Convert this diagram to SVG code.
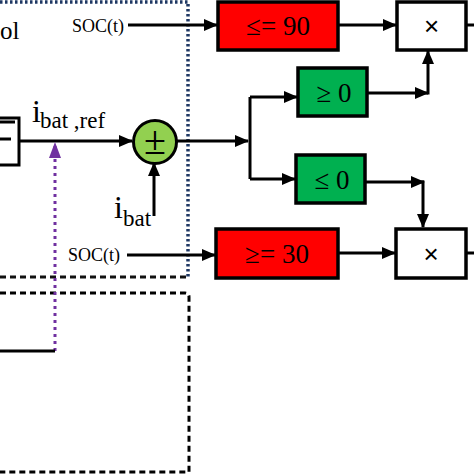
<svg xmlns="http://www.w3.org/2000/svg" width="474" height="474" viewBox="0 0 474 474">
<defs>
<marker id="ah" markerUnits="userSpaceOnUse" markerWidth="14" markerHeight="12" refX="13" refY="6" orient="auto"><path d="M0,0 L14,6 L0,12 Z" fill="#000"/></marker>
<style>
.w{stroke:#000;stroke-width:3;fill:none}
.a{stroke:#000;stroke-width:3;fill:none;marker-end:url(#ah)}
.bx{stroke:#000;stroke-width:3.5}
.t{font-family:"Liberation Serif",serif;fill:#000}
.c{text-anchor:middle}
.x{font-family:"Liberation Sans",sans-serif;font-size:26px}
</style>
</defs>
<rect width="474" height="474" fill="#fff"/>
<g id="regions">
<path d="M0,2 H188 V277" fill="none" stroke="#1f3864" stroke-width="3.5" stroke-dasharray="2.5 2.5"/>
<path d="M0,277 H188" fill="none" stroke="#111" stroke-width="3" stroke-dasharray="6 4"/>
<path d="M0,293 H185 Q189,293 189,297 V472 H0" fill="none" stroke="#000" stroke-width="3" stroke-dasharray="6 4"/>
<text class="t" x="0" y="39" font-size="25">ol</text>
</g>
<g id="left-block">
<path class="w" d="M0,118 H19 V165 H0"/>
<path class="w" d="M0,122 H15"/>
<path class="w" d="M0,139 H11"/>
</g>
<g id="connectors">
<path class="a" d="M19,141 H132"/>
<path d="M55,351 V146" fill="none" stroke="#7030a0" stroke-width="3" stroke-dasharray="3 4"/>
<path d="M49,158 L55,142 L61,158 Z" fill="#7030a0"/>
<path class="w" d="M0,351 H55"/>
<path class="a" d="M154,216 V163"/>
<path class="a" d="M177,141 H248"/>
<path class="w" d="M250,97 V179"/>
<path class="a" d="M250,97 H297"/>
<path class="a" d="M250,179 H295"/>
<path class="a" d="M128,25 H217"/>
<path class="a" d="M127,255 H215"/>
<path class="a" d="M338,25 H396"/>
<path class="a" d="M367,93 H428"/>
<path class="a" d="M428,94.5 V51"/>
<path class="a" d="M365,182 H424"/>
<path class="a" d="M423,180.5 V227"/>
<path class="a" d="M338,253 H395"/>
<path class="w" d="M466,25 H474"/>
<path class="w" d="M466,253 H474"/>
</g>
<g id="ibatref-label">
<text class="t" x="32" y="122" font-size="32">i</text>
<text class="t" x="40" y="128" font-size="23">bat ,ref</text>
</g>
<g id="sum">
<circle cx="155" cy="142" r="21.5" fill="#92d050" stroke="#000" stroke-width="3"/>
<text class="t c" x="155" y="154" font-size="40">±</text>
</g>
<g id="ibat-label">
<text class="t" x="114" y="218" font-size="32">i</text>
<text class="t" x="123" y="226" font-size="23">bat</text>
</g>
<g id="soc-top"><text class="t" x="72" y="32" font-size="18">SOC(t)</text></g>
<g id="soc-bottom"><text class="t" x="68" y="261" font-size="18">SOC(t)</text></g>
<g id="le90">
<rect class="bx" x="218" y="2" width="120" height="48" fill="#ff0000"/>
<text class="t c" x="278" y="35" font-size="27" fill="#3a0000">≤= 90</text>
</g>
<g id="ge30">
<rect class="bx" x="216" y="229" width="122" height="49" fill="#ff0000"/>
<text class="t c" x="277" y="263" font-size="27" fill="#3a0000">≥= 30</text>
</g>
<g id="ge0">
<rect class="bx" x="298" y="68" width="69" height="48" fill="#00b050"/>
<text class="t c" x="334" y="102" font-size="27" fill="#002a10">≥ 0</text>
</g>
<g id="le0">
<rect class="bx" x="296" y="155" width="69" height="48" fill="#00b050"/>
<text class="t c" x="332" y="189" font-size="27" fill="#002a10">≤ 0</text>
</g>
<g id="mul-top">
<rect class="bx" x="397" y="2" width="69" height="48" fill="#fff"/>
<text class="t c x" x="431.5" y="35">×</text>
</g>
<g id="mul-bottom">
<rect class="bx" x="396" y="229" width="70" height="49" fill="#fff"/>
<text class="t c x" x="431" y="263">×</text>
</g>
</svg>
